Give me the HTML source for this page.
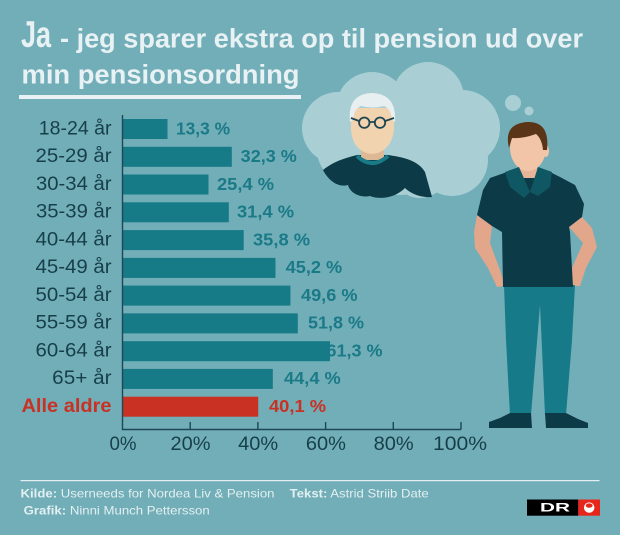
<!DOCTYPE html>
<html>
<head>
<meta charset="utf-8">
<style>
html,body{margin:0;padding:0;background:#71aeb8;}
svg{display:block;}
text{font-family:"Liberation Sans",sans-serif;}
.cat{font-size:19px;fill:#173f4a;text-anchor:end;}
.val{font-family:"Liberation Sans Narrow","Liberation Sans",sans-serif;font-weight:bold;font-size:17.5px;fill:#1a7a87;}
.tick{font-size:19.5px;fill:#173f4a;text-anchor:middle;}
.foot{font-size:12px;fill:#e3eff1;}
</style>
</head>
<body>
<svg width="620" height="535" viewBox="0 0 620 535" xmlns="http://www.w3.org/2000/svg">
<rect x="0" y="0" width="620" height="535" fill="#71aeb8"/>

<!-- Title -->
<text x="21" y="47" font-size="37" font-weight="bold" fill="#e8f1f3" textLength="30" lengthAdjust="spacingAndGlyphs">Ja</text>
<text x="60" y="47.5" font-size="27" font-weight="bold" fill="#e8f1f3" textLength="523" lengthAdjust="spacingAndGlyphs">- jeg sparer ekstra op til pension ud over</text>
<text x="21.5" y="83.5" font-size="27" font-weight="bold" fill="#e8f1f3" textLength="278" lengthAdjust="spacingAndGlyphs">min pensionsordning</text>
<rect x="19" y="95" width="282" height="4" fill="#e8f1f3"/>

<!-- Thought bubble -->
<g fill="#a9cfd5">
  <circle cx="338" cy="128" r="36"/>
  <circle cx="372" cy="108" r="36"/>
  <circle cx="428" cy="98" r="36"/>
  <circle cx="462" cy="128" r="38"/>
  <circle cx="452" cy="160" r="36"/>
  <circle cx="400" cy="150" r="45"/>
  <circle cx="350" cy="150" r="33"/>
  <circle cx="420" cy="170" r="28"/>
  <circle cx="513" cy="103" r="8"/>
  <circle cx="529" cy="111" r="4.5"/>
</g>

<!-- Old man -->
<path d="M323,170 C335,160 350,157 357,155 L388,155 C402,157 418,160 425,172 L432,197 C420,198 410,193 405,188 C395,198 380,200 370,196 C360,198 350,193 348,185 C338,188 328,180 323,170 Z" fill="#0c3b47"/>
<rect x="361" y="140" width="23" height="20" fill="#dcb994"/>
<path d="M357,156 Q372,170 388,156" fill="none" stroke="#1a7a88" stroke-width="4"/>
<path d="M351,108 L351,130 Q353,152 372,154 Q391,152 394,130 L394,108 Z" fill="#f2d3b0"/>
<path d="M350,122 Q347,94 372,93 Q397,94 395,122 L392,120 Q391,109 384,106 Q372,109 361,106 Q354,109 353,120 Z" fill="#e8eff1"/>
<g fill="none" stroke="#1e4550" stroke-width="1.8">
  <circle cx="364.3" cy="122.7" r="5.2"/>
  <circle cx="380" cy="122.7" r="5.2"/>
  <path d="M369.5,122 L374.8,122 M359,121 L351,118 M385.2,121 L394,118"/>
</g>

<!-- Young man -->
<!-- arms -->
<path d="M477,215 L492,226 L490,243 L500,270 L505,286 L497,287 L488,268 L475,248 L474,232 Z" fill="#e2a68a"/>
<path d="M582,217 L569,227 L583,243 L572,268 L572,286 L580,286 L586,268 L597,247 L592,228 Z" fill="#e2a68a"/>
<!-- pants -->
<path d="M504,285 L575,285 L572,340 L566,415 L545,415 L540,305 L531,415 L510,415 L506,340 Z" fill="#167a88"/>
<!-- shoes -->
<path d="M510,413 L531,413 L532,428 L489,428 L489,422 L500,418 Z" fill="#0c3a46"/>
<path d="M545,413 L566,413 L578,419 L588,423 L588,428 L546,428 Z" fill="#0c3a46"/>
<!-- shirt -->
<path d="M507,172 L490,178 L483,190 L477,215 L492,226 L502,232 L503,287 L573,287 L570,232 L569,227 L582,217 L584,204 L575,185 L560,177 L550,172 Z" fill="#0c3a46"/>
<!-- neck -->
<rect x="519" y="158" width="18" height="20" fill="#e8b497"/>
<!-- face -->
<ellipse cx="528" cy="148" rx="18" ry="23" fill="#f3c5a8"/>
<ellipse cx="546" cy="151" rx="3" ry="6" fill="#f3c5a8"/>
<!-- hair -->
<path d="M509,148 Q503,124 527,122 Q550,121 547,150 L543,150 Q542,139 536,134 Q522,139 512,138 Z" fill="#5b3517"/>
<!-- collar -->
<path d="M505,172 L519,167 L530,192 L524,198 L510,187 Z" fill="#0f5762"/>
<path d="M538,167 L552,172 L550,187 L538,196 L530,192 Z" fill="#0f5762"/>

<!-- Value labels (drawn beneath bars) -->
<text class="val" x="176" y="134.3" textLength="54" lengthAdjust="spacingAndGlyphs">13,3 %</text>
<text class="val" x="240.7" y="162.1" textLength="56" lengthAdjust="spacingAndGlyphs">32,3 %</text>
<text class="val" x="217" y="189.8" textLength="57" lengthAdjust="spacingAndGlyphs">25,4 %</text>
<text class="val" x="237" y="217.6" textLength="57" lengthAdjust="spacingAndGlyphs">31,4 %</text>
<text class="val" x="253" y="245.4" textLength="57" lengthAdjust="spacingAndGlyphs">35,8 %</text>
<text class="val" x="285.7" y="273.2" textLength="56.5" lengthAdjust="spacingAndGlyphs">45,2 %</text>
<text class="val" x="301" y="300.9" textLength="56.5" lengthAdjust="spacingAndGlyphs">49,6 %</text>
<text class="val" x="308" y="328.7" textLength="56" lengthAdjust="spacingAndGlyphs">51,8 %</text>
<text class="val" x="326.5" y="356.5" textLength="56" lengthAdjust="spacingAndGlyphs">61,3 %</text>
<text class="val" x="284" y="384.2" textLength="56.7" lengthAdjust="spacingAndGlyphs">44,4 %</text>
<text class="val" x="269" y="412" textLength="57" lengthAdjust="spacingAndGlyphs" fill="#c93122" style="fill:#c93122">40,1 %</text>

<!-- Bars -->
<g fill="#167a87">
  <rect x="122.5" y="119" width="45" height="20"/>
  <rect x="122.5" y="146.8" width="109.3" height="20"/>
  <rect x="122.5" y="174.5" width="86" height="20"/>
  <rect x="122.5" y="202.3" width="106.3" height="20"/>
  <rect x="122.5" y="230.1" width="121.2" height="20"/>
  <rect x="122.5" y="257.9" width="153" height="20"/>
  <rect x="122.5" y="285.6" width="167.9" height="20"/>
  <rect x="122.5" y="313.4" width="175.3" height="20"/>
  <rect x="122.5" y="341.2" width="207.5" height="20"/>
  <rect x="122.5" y="368.9" width="150.3" height="20"/>
</g>
<rect x="122.5" y="396.7" width="135.7" height="20" fill="#c93122"/>

<!-- Category labels -->
<text class="cat" x="111.5" y="134.3" textLength="72.7" lengthAdjust="spacingAndGlyphs">18-24 år</text>
<text class="cat" x="111.5" y="162.1" textLength="76" lengthAdjust="spacingAndGlyphs">25-29 år</text>
<text class="cat" x="111.5" y="189.8" textLength="75.5" lengthAdjust="spacingAndGlyphs">30-34 år</text>
<text class="cat" x="111.5" y="217.6" textLength="75.5" lengthAdjust="spacingAndGlyphs">35-39 år</text>
<text class="cat" x="111.5" y="245.4" textLength="76" lengthAdjust="spacingAndGlyphs">40-44 år</text>
<text class="cat" x="111.5" y="273.2" textLength="76" lengthAdjust="spacingAndGlyphs">45-49 år</text>
<text class="cat" x="111.5" y="300.9" textLength="76" lengthAdjust="spacingAndGlyphs">50-54 år</text>
<text class="cat" x="111.5" y="328.7" textLength="76" lengthAdjust="spacingAndGlyphs">55-59 år</text>
<text class="cat" x="111.5" y="356.5" textLength="76" lengthAdjust="spacingAndGlyphs">60-64 år</text>
<text class="cat" x="111.5" y="384.2" textLength="59.3" lengthAdjust="spacingAndGlyphs">65+ år</text>
<text class="cat" x="111.5" y="412" textLength="90" lengthAdjust="spacingAndGlyphs" font-weight="bold" style="fill:#c83224">Alle aldre</text>

<!-- Axes -->
<g stroke="#1c4855" stroke-width="1.4" fill="none">
  <path d="M122.5,115 L122.5,429.5 L461,429.5"/>
  <path d="M190.2,429.5 V422 M257.9,429.5 V422 M325.6,429.5 V422 M393.3,429.5 V422 M461,429.5 V422"/>
</g>
<text class="tick" x="123" y="450" textLength="27" lengthAdjust="spacingAndGlyphs">0%</text>
<text class="tick" x="190.5" y="450" textLength="40" lengthAdjust="spacingAndGlyphs">20%</text>
<text class="tick" x="258.2" y="450" textLength="40" lengthAdjust="spacingAndGlyphs">40%</text>
<text class="tick" x="325.9" y="450" textLength="40" lengthAdjust="spacingAndGlyphs">60%</text>
<text class="tick" x="393.6" y="450" textLength="40" lengthAdjust="spacingAndGlyphs">80%</text>
<text class="tick" x="460" y="450" textLength="54" lengthAdjust="spacingAndGlyphs">100%</text>

<!-- Footer -->
<rect x="20.5" y="480" width="579" height="1.2" fill="#e3eff1"/>
<text class="foot" x="20.5" y="497.3" textLength="254" lengthAdjust="spacingAndGlyphs"><tspan font-weight="bold">Kilde:</tspan> Userneeds for Nordea Liv  &amp; Pension</text>
<text class="foot" x="289.7" y="497.3" textLength="139" lengthAdjust="spacingAndGlyphs"><tspan font-weight="bold">Tekst:</tspan> Astrid Striib Date</text>
<text class="foot" x="23.7" y="514.3" textLength="186" lengthAdjust="spacingAndGlyphs"><tspan font-weight="bold">Grafik:</tspan> Ninni Munch Pettersson</text>

<!-- DR logo -->
<rect x="527" y="499.5" width="51.3" height="16.2" fill="#000"/>
<rect x="578.3" y="499.5" width="21.7" height="16.2" fill="#e8251a"/>
<text x="540" y="511.5" font-size="11.5" font-weight="bold" fill="#fff" textLength="30" lengthAdjust="spacingAndGlyphs">DR</text>
<circle cx="589.2" cy="507.6" r="5.2" fill="#fff"/>
<ellipse cx="589.2" cy="505.6" rx="3.4" ry="2.2" fill="#e8251a"/>
</svg>
</body>
</html>
